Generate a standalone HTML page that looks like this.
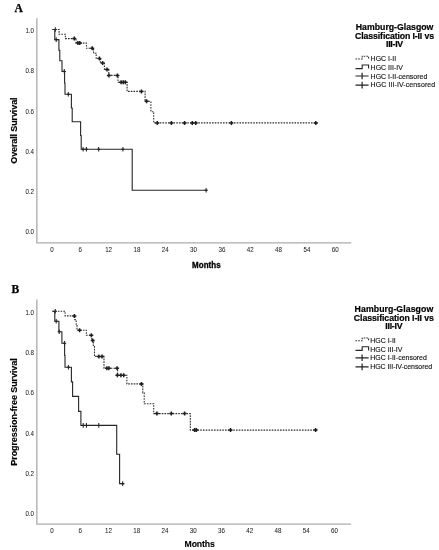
<!DOCTYPE html>
<html><head><meta charset="utf-8"><title>Kaplan-Meier curves by Hamburg-Glasgow classification</title>
<style>
html,body{margin:0;padding:0;background:#fff;}
body{width:439px;height:550px;overflow:hidden;}
svg{display:block;filter:blur(0.3px);}
.lt{font-family:"Liberation Serif",serif;font-weight:bold;font-size:11.5px;fill:#000;stroke:#000;stroke-width:0.25px;}
.ax{fill:none;stroke:#adadad;stroke-width:1.35;}
.tk{font-family:"Liberation Sans",sans-serif;font-size:6.2px;fill:#262626;stroke:#262626;stroke-width:0.05px;}
.at{font-family:"Liberation Sans",sans-serif;font-weight:bold;font-size:8px;fill:#000;stroke:#000;stroke-width:0.3px;}
.at2{font-family:"Liberation Sans",sans-serif;font-weight:bold;font-size:9px;fill:#000;stroke:#000;stroke-width:0.15px;}
.lg{font-family:"Liberation Sans",sans-serif;font-weight:bold;font-size:8.75px;fill:#000;stroke:#000;stroke-width:0.2px;}
.li{font-family:"Liberation Sans",sans-serif;font-size:7px;fill:#111;stroke:#111;stroke-width:0.12px;}
.cs{fill:none;stroke:#262626;stroke-width:1.1;}
.cd{fill:none;stroke:#2e2e2e;stroke-width:1.1;stroke-dasharray:1.6 1.15;}
.cc{fill:none;stroke:#222;stroke-width:1.05;}
.cc2{fill:none;stroke:#1e1e1e;stroke-width:1.5;}
</style></head>
<body>
<svg width="439" height="550" viewBox="0 0 439 550">
<rect width="439" height="550" fill="#fff"/>
<text x="14.5" y="12.0" class="lt">A</text>
<path d="M36.85 18.20 V242.85 H351.2" class="ax"/>
<text transform="translate(34.0 33.09) scale(1 1.02)" class="tk" text-anchor="end">1.0</text>
<text transform="translate(34.0 73.36) scale(1 1.02)" class="tk" text-anchor="end">0.8</text>
<text transform="translate(34.0 113.63) scale(1 1.02)" class="tk" text-anchor="end">0.6</text>
<text transform="translate(34.0 153.90) scale(1 1.02)" class="tk" text-anchor="end">0.4</text>
<text transform="translate(34.0 194.17) scale(1 1.02)" class="tk" text-anchor="end">0.2</text>
<text transform="translate(34.0 234.44) scale(1 1.02)" class="tk" text-anchor="end">0.0</text>
<text transform="translate(51.90 252.19) scale(1 1.02)" class="tk" text-anchor="middle">0</text>
<text transform="translate(80.23 252.19) scale(1 1.02)" class="tk" text-anchor="middle">6</text>
<text transform="translate(108.56 252.19) scale(1 1.02)" class="tk" text-anchor="middle">12</text>
<text transform="translate(136.89 252.19) scale(1 1.02)" class="tk" text-anchor="middle">18</text>
<text transform="translate(165.22 252.19) scale(1 1.02)" class="tk" text-anchor="middle">24</text>
<text transform="translate(193.55 252.19) scale(1 1.02)" class="tk" text-anchor="middle">30</text>
<text transform="translate(221.88 252.19) scale(1 1.02)" class="tk" text-anchor="middle">36</text>
<text transform="translate(250.21 252.19) scale(1 1.02)" class="tk" text-anchor="middle">42</text>
<text transform="translate(278.54 252.19) scale(1 1.02)" class="tk" text-anchor="middle">48</text>
<text transform="translate(306.87 252.19) scale(1 1.02)" class="tk" text-anchor="middle">54</text>
<text transform="translate(335.20 252.19) scale(1 1.02)" class="tk" text-anchor="middle">60</text>
<text transform="translate(206.4 267.6) scale(1 1.08)" class="at" text-anchor="middle" textLength="28.6">Months</text>
<text class="at2" text-anchor="middle" textLength="66.3" transform="translate(16.9 130.6) rotate(-90)">Overall Survival</text>
<path d="M52.4 29.5 L54.8 29.5 L54.8 39.6 L58.9 39.6 L58.9 50.3 L59.8 50.3 L59.8 60.8 L62.0 60.8 L62.0 71.4 L64.6 71.4 L64.6 83.0 L65.0 83.0 L65.0 94.2 L71.4 94.2 L71.4 108.0 L72.2 108.0 L72.2 121.7 L80.6 121.7 L80.6 135.5 L81.2 135.5 L81.2 149.2 L132.2 149.2 L132.2 190.2 L207.4 190.2" class="cs"/>
<path d="M55.3 27.2v4.6M53.7 29.5h3.2M56.2 37.3v4.6M54.6 39.6h3.2M64.3 69.1v4.6M62.7 71.4h3.2M68.3 91.9v4.6M66.7 94.2h3.2M83.1 146.9v4.6M81.5 149.2h3.2M86.4 146.9v4.6M84.8 149.2h3.2M98.7 146.9v4.6M97.1 149.2h3.2M122.9 146.9v4.6M121.3 149.2h3.2M206.1 187.9v4.6M204.5 190.2h3.2" class="cc"/>
<path d="M52.4 29.5 L59.1 29.5 L59.1 34.3 L65.4 34.3 L65.4 38.6 L76.0 38.6 L76.0 43.1 L86.5 43.1 L86.5 48.3 L93.6 48.3 L93.6 53.2 L96.2 53.2 L96.2 58.5 L100.4 58.5 L100.4 63.0 L104.4 63.0 L104.4 69.4 L108.8 69.4 L108.8 75.4 L118.0 75.4 L118.0 82.3 L127.1 82.3 L127.1 91.4 L145.1 91.4 L145.1 101.3 L150.9 101.3 L150.9 111.7 L153.7 111.7 L153.7 122.9 L317.6 122.9" class="cd"/>
<path d="M74.3 36.6v4.0M72.3 38.6h4.0M77.9 41.1v4.0M75.9 43.1h4.0M79.8 41.1v4.0M77.8 43.1h4.0M92.2 46.3v4.0M90.2 48.3h4.0M99.4 56.5v4.0M97.4 58.5h4.0M102.6 61.0v4.0M100.6 63.0h4.0M107.0 67.4v4.0M105.0 69.4h4.0M108.9 73.4v4.0M106.9 75.4h4.0M117.4 73.4v4.0M115.4 75.4h4.0M121.1 80.3v4.0M119.1 82.3h4.0M123.2 80.3v4.0M121.2 82.3h4.0M125.3 80.3v4.0M123.3 82.3h4.0M141.4 89.4v4.0M139.4 91.4h4.0M146.6 99.3v4.0M144.6 101.3h4.0M157.3 120.9v4.0M155.3 122.9h4.0M171.4 120.9v4.0M169.4 122.9h4.0M184.6 120.9v4.0M182.6 122.9h4.0M192.3 120.9v4.0M190.3 122.9h4.0M195.7 120.9v4.0M193.7 122.9h4.0M231.4 120.9v4.0M229.4 122.9h4.0M315.8 120.9v4.0M313.8 122.9h4.0" class="cc2"/>
<text transform="translate(394.60 30.30) scale(1 1.1)" class="lg" text-anchor="middle" textLength="77.6">Hamburg-Glasgow</text>
<text transform="translate(394.60 39.00) scale(1 1.1)" class="lg" text-anchor="middle" textLength="79.0">Classification I-II vs</text>
<text transform="translate(394.60 47.30) scale(1 1.1)" class="lg" text-anchor="middle" textLength="17.2">III-IV</text>
<text transform="translate(370.6 61.20) scale(1 1.1)" class="li">HGC I-II</text>
<text transform="translate(370.6 69.90) scale(1 1.1)" class="li">HGC III-IV</text>
<text transform="translate(370.6 78.50) scale(1 1.1)" class="li">HGC I-II-censored</text>
<text transform="translate(370.6 87.30) scale(1 1.1)" class="li" textLength="64.6">HGC III-IV-censored</text>
<path d="M355.5 59.0 H362.2 V56.2 H368.6 V59.5" class="cd"/>
<path d="M355.5 68.6 H362.2 V65.0 H368.6 V68.6" class="cs"/>
<path d="M355.5 76.0 H368.6 M362.1 72.7 V79.3" class="cs" style="stroke:#222;stroke-width:1.2"/>
<path d="M355.5 85.1 H368.6 M362.1 81.8 V88.4" class="cs" style="stroke:#222;stroke-width:1.2"/>
<text x="11.4" y="292.8" class="lt">B</text>
<path d="M36.85 299.40 V524.05 H351.2" class="ax"/>
<text transform="translate(34.0 314.69) scale(1 1.02)" class="tk" text-anchor="end">1.0</text>
<text transform="translate(34.0 354.96) scale(1 1.02)" class="tk" text-anchor="end">0.8</text>
<text transform="translate(34.0 395.23) scale(1 1.02)" class="tk" text-anchor="end">0.6</text>
<text transform="translate(34.0 435.50) scale(1 1.02)" class="tk" text-anchor="end">0.4</text>
<text transform="translate(34.0 475.77) scale(1 1.02)" class="tk" text-anchor="end">0.2</text>
<text transform="translate(34.0 516.04) scale(1 1.02)" class="tk" text-anchor="end">0.0</text>
<text transform="translate(51.90 533.39) scale(1 1.02)" class="tk" text-anchor="middle">0</text>
<text transform="translate(80.16 533.39) scale(1 1.02)" class="tk" text-anchor="middle">6</text>
<text transform="translate(108.42 533.39) scale(1 1.02)" class="tk" text-anchor="middle">12</text>
<text transform="translate(136.68 533.39) scale(1 1.02)" class="tk" text-anchor="middle">18</text>
<text transform="translate(164.94 533.39) scale(1 1.02)" class="tk" text-anchor="middle">24</text>
<text transform="translate(193.20 533.39) scale(1 1.02)" class="tk" text-anchor="middle">30</text>
<text transform="translate(221.46 533.39) scale(1 1.02)" class="tk" text-anchor="middle">36</text>
<text transform="translate(249.72 533.39) scale(1 1.02)" class="tk" text-anchor="middle">42</text>
<text transform="translate(277.98 533.39) scale(1 1.02)" class="tk" text-anchor="middle">48</text>
<text transform="translate(306.24 533.39) scale(1 1.02)" class="tk" text-anchor="middle">54</text>
<text transform="translate(334.50 533.39) scale(1 1.02)" class="tk" text-anchor="middle">60</text>
<text transform="translate(199.7 546.6) scale(1 1.08)" class="at" text-anchor="middle" textLength="30.4" style="font-size:8.7px;stroke-width:0.1px">Months</text>
<text class="at2" text-anchor="middle" textLength="107.4" transform="translate(16.6 412.0) rotate(-90)">Progression-free Survival</text>
<path d="M52.4 311.2 L54.8 311.2 L54.8 321.3 L58.9 321.3 L58.9 331.8 L61.9 331.8 L61.9 343.2 L64.6 343.2 L64.6 355.5 L65.0 355.5 L65.0 367.2 L71.4 367.2 L71.4 381.9 L72.6 381.9 L72.6 396.4 L78.6 396.4 L78.6 411.4 L80.9 411.4 L80.9 425.4 L116.7 425.4 L116.7 454.2 L119.6 454.2 L119.6 483.6 L124.2 483.6" class="cs"/>
<path d="M55.3 308.9v4.6M53.7 311.2h3.2M56.2 319.0v4.6M54.6 321.3h3.2M59.2 329.5v4.6M57.6 331.8h3.2M64.6 340.9v4.6M63.0 343.2h3.2M68.4 364.9v4.6M66.8 367.2h3.2M83.2 423.1v4.6M81.6 425.4h3.2M86.4 423.1v4.6M84.8 425.4h3.2M98.8 423.1v4.6M97.2 425.4h3.2M122.7 481.3v4.6M121.1 483.6h3.2" class="cc"/>
<path d="M52.4 311.2 L65.1 311.2 L65.1 315.9 L74.8 315.9 L74.8 319.6 L76.2 319.6 L76.2 325.0 L77.0 325.0 L77.0 330.2 L86.4 330.2 L86.4 335.3 L91.7 335.3 L91.7 340.4 L93.3 340.4 L93.3 345.5 L94.5 345.5 L94.5 356.4 L104.0 356.4 L104.0 368.3 L117.6 368.3 L117.6 375.3 L126.9 375.3 L126.9 383.9 L142.8 383.9 L142.8 392.7 L144.2 392.7 L144.2 403.7 L153.7 403.7 L153.7 413.6 L190.3 413.6 L190.3 430.1 L317.0 430.1" class="cd"/>
<path d="M74.4 313.9v4.0M72.4 315.9h4.0M79.6 328.2v4.0M77.6 330.2h4.0M91.3 333.3v4.0M89.3 335.3h4.0M92.7 338.4v4.0M90.7 340.4h4.0M98.9 354.4v4.0M96.9 356.4h4.0M102.0 354.4v4.0M100.0 356.4h4.0M106.9 366.3v4.0M104.9 368.3h4.0M108.9 366.3v4.0M106.9 368.3h4.0M117.1 366.3v4.0M115.1 368.3h4.0M117.4 373.3v4.0M115.4 375.3h4.0M120.9 373.3v4.0M118.9 375.3h4.0M123.7 373.3v4.0M121.7 375.3h4.0M141.4 381.9v4.0M139.4 383.9h4.0M156.9 411.6v4.0M154.9 413.6h4.0M171.3 411.6v4.0M169.3 413.6h4.0M184.6 411.6v4.0M182.6 413.6h4.0M194.6 428.1v4.0M192.6 430.1h4.0M196.4 428.1v4.0M194.4 430.1h4.0M230.5 428.1v4.0M228.5 430.1h4.0M315.6 428.1v4.0M313.6 430.1h4.0" class="cc2"/>
<text transform="translate(393.90 312.10) scale(1 1.1)" class="lg" text-anchor="middle" textLength="78.6">Hamburg-Glasgow</text>
<text transform="translate(393.90 320.80) scale(1 1.1)" class="lg" text-anchor="middle" textLength="80.2">Classification I-II vs</text>
<text transform="translate(393.90 329.10) scale(1 1.1)" class="lg" text-anchor="middle" textLength="17.4">III-IV</text>
<text transform="translate(370.2 343.00) scale(1 1.1)" class="li">HGC I-II</text>
<text transform="translate(370.2 351.70) scale(1 1.1)" class="li">HGC III-IV</text>
<text transform="translate(370.2 360.30) scale(1 1.1)" class="li">HGC I-II-censored</text>
<text transform="translate(370.2 369.10) scale(1 1.1)" class="li" textLength="62.0">HGC III-IV-censored</text>
<path d="M355.5 340.8 H362.2 V338.0 H368.6 V341.3" class="cd"/>
<path d="M355.5 350.4 H362.2 V346.8 H368.6 V350.4" class="cs"/>
<path d="M355.5 357.8 H368.6 M362.1 354.5 V361.1" class="cs" style="stroke:#222;stroke-width:1.2"/>
<path d="M355.5 366.9 H368.6 M362.1 363.6 V370.2" class="cs" style="stroke:#222;stroke-width:1.2"/>
</svg>
</body></html>
